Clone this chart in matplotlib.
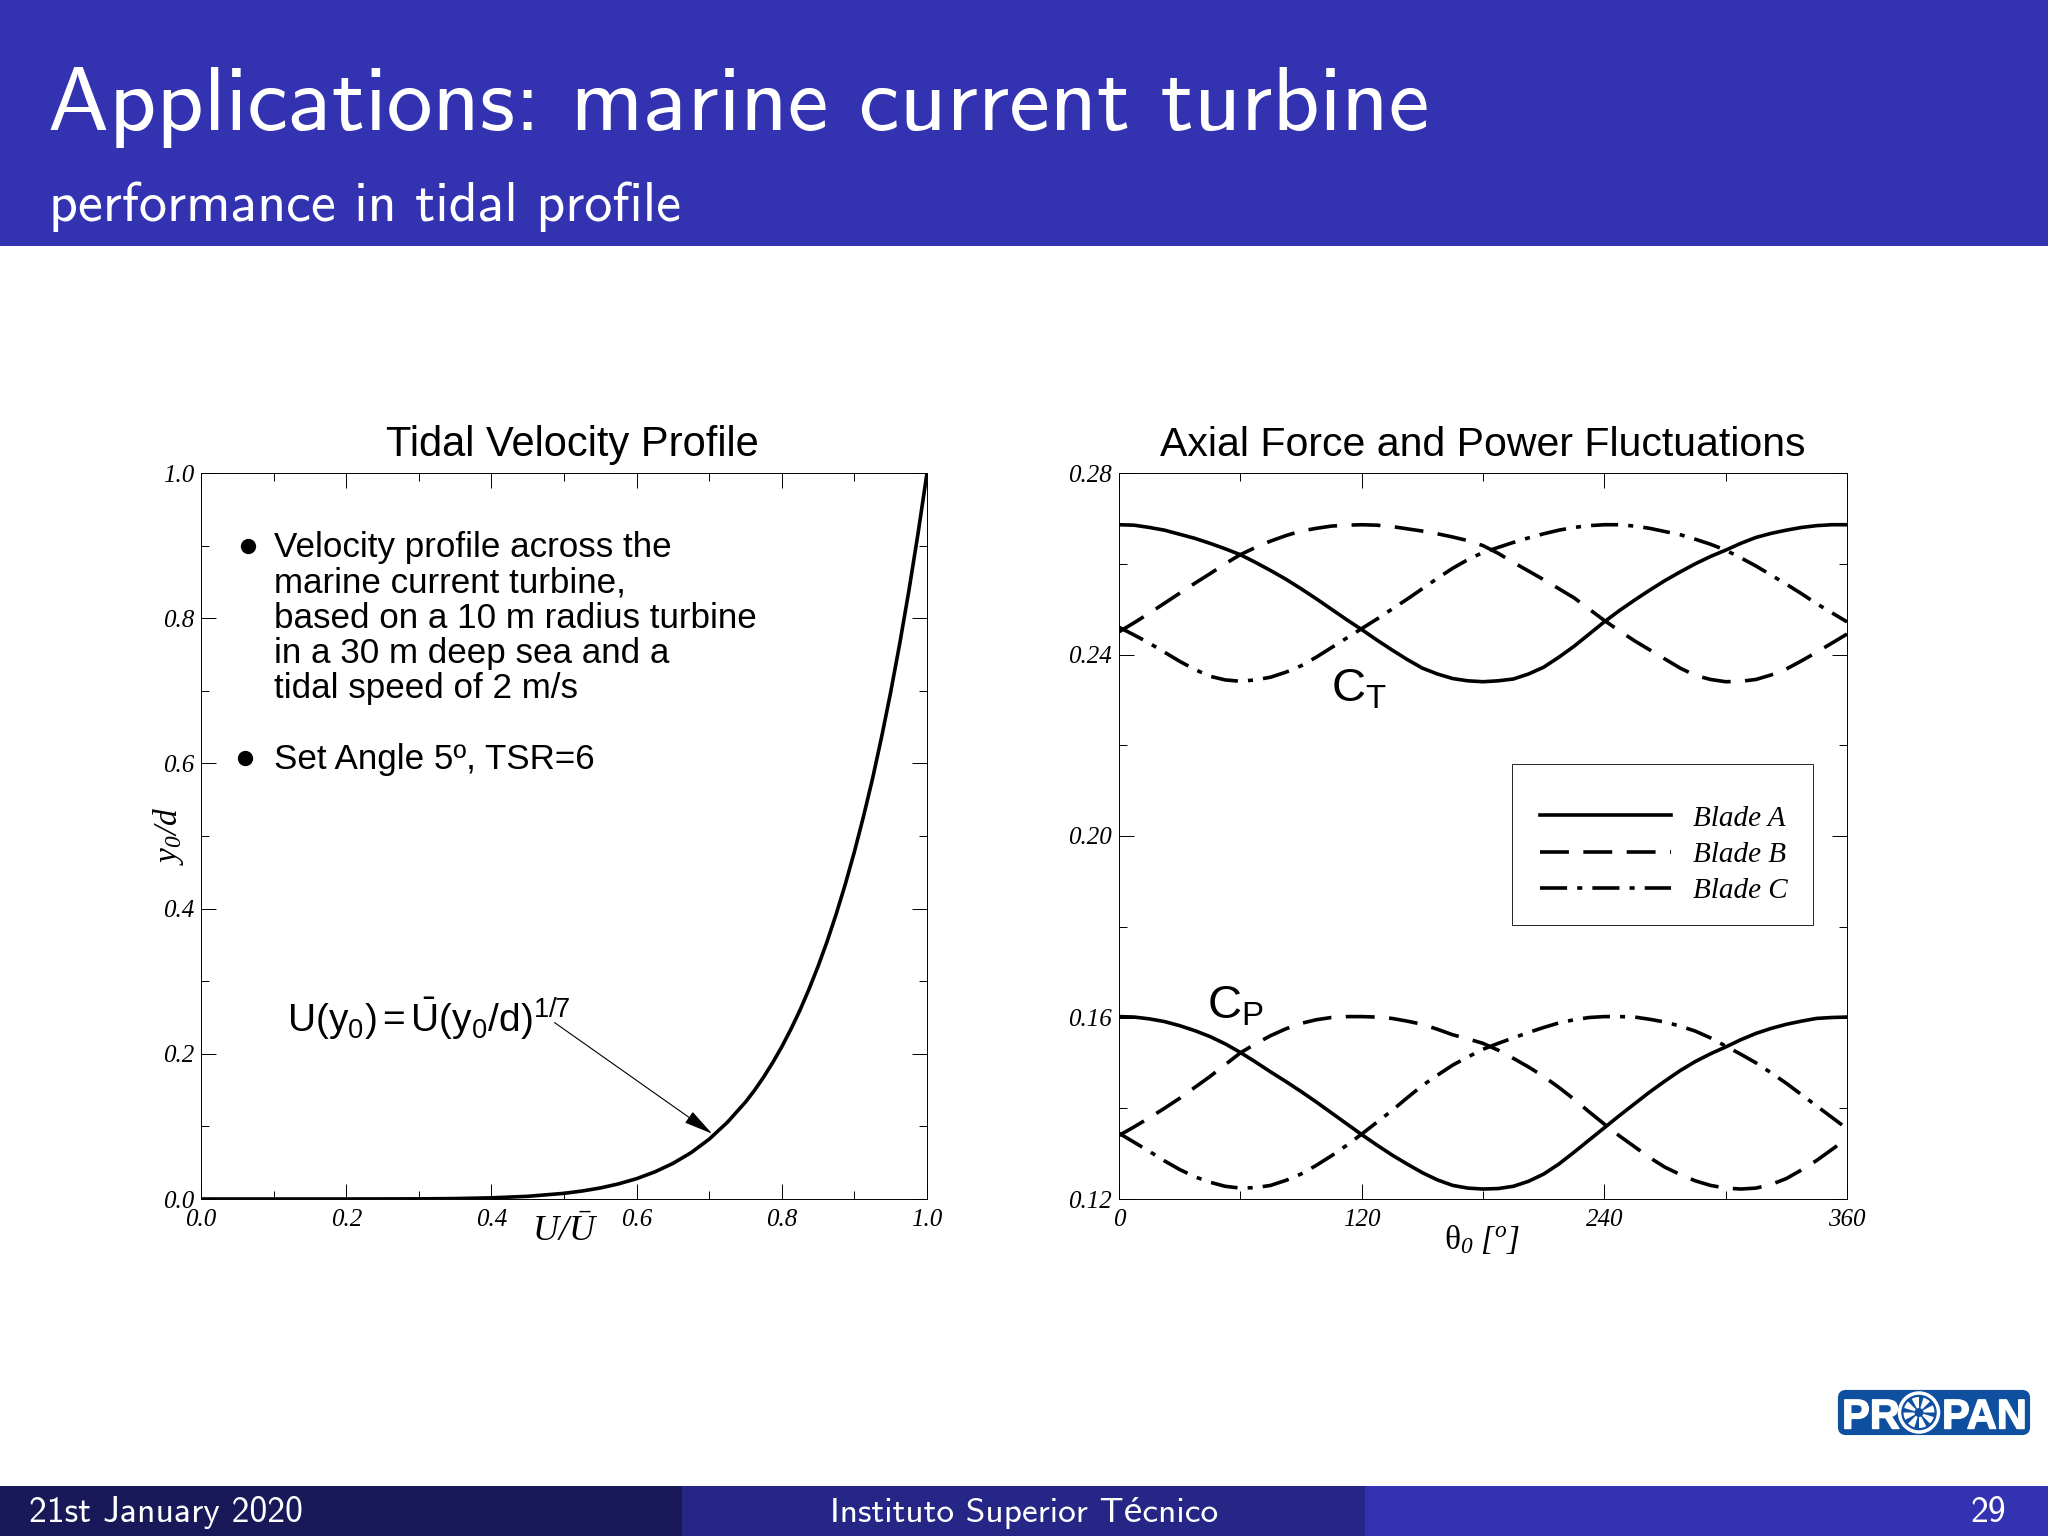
import matplotlib
matplotlib.use('Agg')
import matplotlib.pyplot as plt
import matplotlib.patheffects as pe
from matplotlib.patches import Rectangle, FancyBboxPatch, Circle, Wedge
from matplotlib.lines import Line2D

plt.rcParams['font.family'] = 'Liberation Sans'
plt.rcParams['mathtext.fontset'] = 'custom'
# mathtext sends digits and punctuation to rm, so rm has to be the italic serif too
plt.rcParams['mathtext.rm'] = 'Liberation Serif:italic'
plt.rcParams['mathtext.it'] = 'Liberation Serif:italic'
plt.rcParams['mathtext.bf'] = 'Liberation Serif'
plt.rcParams['mathtext.sf'] = 'Liberation Sans'

# Slide text
slide_title = 'Applications: marine current turbine'
slide_subtitle = 'performance in tidal profile'
footer_date = '21st January 2020'
footer_place = 'Instituto Superior Técnico'
footer_page = '29'

# Left panel
u_ratio = [0.0, 0.1, 0.2, 0.3, 0.35, 0.4, 0.45, 0.5, 0.525, 0.55, 0.575, 0.6, 0.625, 0.65, 0.675, 0.7,
           0.725, 0.75, 0.7625, 0.775, 0.7875, 0.8, 0.8125, 0.825, 0.8375, 0.85, 0.8625, 0.875, 0.8875,
           0.9, 0.9125, 0.925, 0.9375, 0.95, 0.9625, 0.975, 0.9875, 1.0]
y_ratio = [0.0, 0.0, 0.0, 0.0002, 0.0006, 0.0016, 0.0037, 0.0078, 0.011, 0.0152, 0.0208, 0.028, 0.0373,
           0.049, 0.0638, 0.0824, 0.1056, 0.1335, 0.1498, 0.168, 0.1879, 0.2097, 0.2338, 0.2600, 0.2891,
           0.3206, 0.355, 0.3927, 0.4337, 0.4783, 0.5268, 0.579, 0.6365, 0.6983, 0.7653, 0.8376, 0.9157, 1.0]
bullet_one = ['Velocity profile across the', 'marine current turbine,', 'based on a 10 m radius turbine',
              'in a 30 m deep sea and a', 'tidal speed of 2 m/s']
bullet_two = 'Set Angle 5º, TSR=6'

# Right panel, every 7.5 degrees
theta = [i * 7.5 for i in range(49)]
ct_a = [.2686, .2685, .2680, .2674, .2665, .2656, .2645, .2633, .2620, .2603, .2585, .2566, .2545, .2523, .2500,
        .2477, .2455, .2432, .2410, .2389, .2370, .2357, .2347, .2342, .2340, .2342, .2346, .2357, .2372, .2394,
        .2418, .2445, .2472, .2497, .2520, .2542, .2563, .2582, .2600, .2616, .2630, .2645, .2658, .2667, .2674,
        .2680, .2684, .2686, .2686]
ct_b = [.2450, .2470, .2491, .2513, .2535, .2557, .2578, .2600, .2620, .2636, .2650, .2662, .2672, .2678, .2683,
        .2685, .2686, .2685, .2682, .2677, .2672, .2666, .2659, .2651, .2640, .2623, .2603, .2584, .2565, .2545,
        .2525, .2500, .2475, .2452, .2430, .2410, .2390, .2370, .2354, .2345, .2340, .2341, .2345, .2355, .2368,
        .2386, .2405, .2425, .2445]
ct_c = [.2460, .2443, .2425, .2405, .2385, .2367, .2352, .2344, .2341, .2344, .2350, .2361, .2375, .2394, .2415,
        .2436, .2457, .2478, .2500, .2522, .2545, .2568, .2590, .2609, .2625, .2636, .2647, .2657, .2666, .2674,
        .2680, .2684, .2686, .2686, .2683, .2678, .2671, .2664, .2654, .2643, .2630, .2613, .2595, .2575, .2555,
        .2534, .2512, .2492, .2472]
cp_a = [.1602, .1601, .1597, .1591, .1582, .1571, .1558, .1542, .1523, .1502, .1480, .1459, .1437, .1414, .1390,
        .1366, .1342, .1319, .1297, .1277, .1258, .1242, .1230, .1224, .1222, .1223, .1228, .1239, .1255, .1277,
        .1303, .1330, .1357, .1384, .1410, .1436, .1460, .1483, .1503, .1520, .1535, .1551, .1565, .1576, .1585,
        .1592, .1598, .1600, .1601]
cp_b = [.1340, .1359, .1379, .1400, .1422, .1446, .1470, .1496, .1522, .1542, .1560, .1575, .1587, .1595, .1600,
        .1602, .1602, .1601, .1598, .1592, .1585, .1574, .1562, .1553, .1543, .1528, .1510, .1491, .1470, .1446,
        .1420, .1392, .1365, .1339, .1315, .1291, .1270, .1254, .1240, .1230, .1224, .1222, .1224, .1232, .1245,
        .1264, .1285, .1309, .1333]
cp_c = [.1345, .1325, .1305, .1284, .1265, .1249, .1237, .1228, .1224, .1225, .1230, .1241, .1255, .1274, .1295,
        .1318, .1343, .1369, .1395, .1423, .1450, .1473, .1495, .1513, .1530, .1543, .1555, .1567, .1578, .1588,
        .1595, .1600, .1602, .1602, .1601, .1596, .1590, .1581, .1570, .1555, .1537, .1519, .1500, .1478, .1455,
        .1430, .1405, .1380, .1355]
blade_names = ['Blade A', 'Blade B', 'Blade C']

W, H = 2048, 1536
LW = 2.6
SOLID = '-'
DASHED = (0, (8, 4))
DASHDOT = (0, (7.5, 2.8, 1.4, 2.8))


def box(px0, py0, px1, py1):
    # pixel box, y from the top, to figure fractions
    return [px0 / W, 1 - py1 / H, (px1 - px0) / W, (py1 - py0) / H]


fig = plt.figure(figsize=(20.48, 15.36), dpi=100)

# Beamer header and footer
blue = '#3333B2'
for x0, y0, x1, y1, c in [(0, 0, 2048, 246, blue), (0, 1486, 682, 1536, '#191959'),
                          (682, 1486, 1365, 1536, '#262686'), (1365, 1486, 2048, 1536, blue)]:
    fig.add_artist(Rectangle((x0 / W, 1 - y1 / H), (x1 - x0) / W, (y1 - y0) / H,
                             transform=fig.transFigure, color=c, lw=0))

cm_sans = ['cmss10', 'Lato']
fig.text(48 / W, 1 - 130 / H, slide_title, color='white', fontsize=66, family=cm_sans, va='baseline')
fig.text(49 / W, 1 - 221 / H, slide_subtitle, color='white', fontsize=40.3, family=cm_sans, va='baseline')
fig.text(29 / W, 1 - 1522 / H, footer_date, color='white', fontsize=25.7, family=cm_sans, va='baseline')
fig.text(1024 / W, 1 - 1522 / H, footer_place, color='white', fontsize=25.5, family=cm_sans, va='baseline', ha='center')
fig.text(2006 / W, 1 - 1522 / H, footer_page, color='white', fontsize=25.7, family=cm_sans, va='baseline', ha='right')


def style_axes(ax):
    ax.tick_params(which='major', direction='in', length=11, width=0.7, top=True, right=True, pad=5)
    ax.tick_params(which='minor', direction='in', length=5.5, width=0.7, top=True, right=True)
    ax.tick_params(axis='x', which='major', pad=7.5)
    for s in ax.spines.values():
        s.set_linewidth(0.7)
    for lab in ax.get_xticklabels() + ax.get_yticklabels():
        lab.set_family('Liberation Serif')
        lab.set_style('italic')
        lab.set_fontsize(18)


# Left panel
ax1 = fig.add_axes(box(201, 473, 927, 1199))
ax1.plot(u_ratio, y_ratio, color='k', lw=LW)
ax1.set_xlim(0, 1)
ax1.set_ylim(0, 1)
ax1.set_xticks([0, .2, .4, .6, .8, 1.0])
ax1.set_xticks([.1, .3, .5, .7, .9], minor=True)
ax1.set_yticks([0, .2, .4, .6, .8, 1.0])
ax1.set_yticks([.1, .3, .5, .7, .9], minor=True)
ax1.set_xticklabels(['0.0', '0.2', '0.4', '0.6', '0.8', '1.0'])
ax1.set_yticklabels(['0.0', '0.2', '0.4', '0.6', '0.8', '1.0'])
style_axes(ax1)
ax1.set_title('Tidal Velocity Profile', fontsize=30, pad=12, x=0.512)
ax1.set_xlabel(r'$\mathit{U/\bar{U}}$', fontsize=26, va='center')
ax1.xaxis.set_label_coords(0.502, -0.045)
ax1.set_ylabel(r'$\mathit{y_0/d}$', fontsize=24, va='center')
ax1.yaxis.set_label_coords(-0.045, 0.5)

for i, line in enumerate(bullet_one):
    ax1.text(0.1, 0.897 - i * 0.0486, line, fontsize=25.2, va='center')
ax1.text(0.1, 0.606, bullet_two, fontsize=25.2, va='center')
ax1.plot([0.065, 0.061], [0.90, 0.608], 'o', color='k', ms=10)

ax1.text(0.118, 0.229, r'$\mathsf{U(y_0){=}\bar{U}(y_0/d)^{1/7}}$', fontsize=28, va='baseline')
ax1.annotate('', xy=(0.704, 0.09), xytext=(0.487, 0.243),
             arrowprops=dict(arrowstyle='-|>,head_length=1.3,head_width=0.3', color='k', lw=0.8,
                             shrinkA=0, shrinkB=0, mutation_scale=14))

# Right panel
ax2 = fig.add_axes(box(1119, 473, 1847, 1199))
for a, b, c in [(ct_a, ct_b, ct_c), (cp_a, cp_b, cp_c)]:
    ax2.plot(theta, a, color='k', lw=LW, ls=SOLID)
    ax2.plot(theta, b, color='k', lw=LW, ls=DASHED)
    ax2.plot(theta, c, color='k', lw=LW, ls=DASHDOT)
ax2.set_xlim(0, 360)
ax2.set_ylim(0.12, 0.28)
ax2.set_xticks([0, 120, 240, 360])
ax2.set_xticks([60, 180, 300], minor=True)
ax2.set_yticks([.12, .16, .20, .24, .28])
ax2.set_yticks([.14, .18, .22, .26], minor=True)
ax2.set_xticklabels(['0', '120', '240', '360'])
ax2.set_yticklabels(['0.12', '0.16', '0.20', '0.24', '0.28'])
style_axes(ax2)
ax2.set_title('Axial Force and Power Fluctuations', fontsize=29.5, pad=12)
ax2.set_xlabel(r'$\mathbf{θ}_{0}\ \mathit{[^o]}$', fontsize=24, va='center')
ax2.xaxis.set_label_coords(0.498, -0.056)
ax2.text(105, 0.2296, r'$\mathsf{C_T}$', fontsize=34, va='baseline')
ax2.text(43.5, 0.1597, r'$\mathsf{C_P}$', fontsize=34, va='baseline')

# Legend text sits low in its frame, so the frame is drawn on its own
ax2.add_patch(Rectangle((0.5404, 0.3777), 0.4129, 0.2212, transform=ax2.transAxes, fc='white',
                        ec='#222222', lw=0.7, zorder=3))
handles = [Line2D([], [], color='k', lw=LW, ls=s) for s in (SOLID, DASHED, DASHDOT)]
leg = ax2.legend(handles, blade_names, loc='upper left', bbox_to_anchor=(0.578, 0.5425),
                 frameon=False, borderaxespad=0, borderpad=0,
                 handlelength=4.5, handletextpad=0.75, labelspacing=0.34,
                 prop={'family': 'Liberation Serif', 'style': 'italic', 'size': 21})
leg.set_zorder(4)

# PROPAN logo
logo = fig.add_axes(box(1837, 1389, 2031, 1436))
logo.set_xlim(0, 194)
logo.set_ylim(0, 47)
logo.axis('off')
logo.add_patch(FancyBboxPatch((3, 3), 188, 41, boxstyle='round,pad=0,rounding_size=6', fc='#0F4FA0', ec='#0F4FA0', lw=3))
stroke = [pe.withStroke(linewidth=1, foreground='white')]
logo.text(5, 23, 'PR', color='white', fontsize=30, fontweight='bold', va='center_baseline', path_effects=stroke)
logo.text(105, 23, 'PAN', color='white', fontsize=30, fontweight='bold', va='center_baseline', path_effects=stroke)
logo.add_patch(Circle((82, 23.5), 19.5, fc='#0F4FA0', ec='white', lw=2.5))
for ang in range(0, 360, 45):
    logo.add_patch(Wedge((82, 23.5), 15.5, ang, ang + 28, width=11, fc='white', lw=0))
fig.savefig('out.png', dpi=100)
